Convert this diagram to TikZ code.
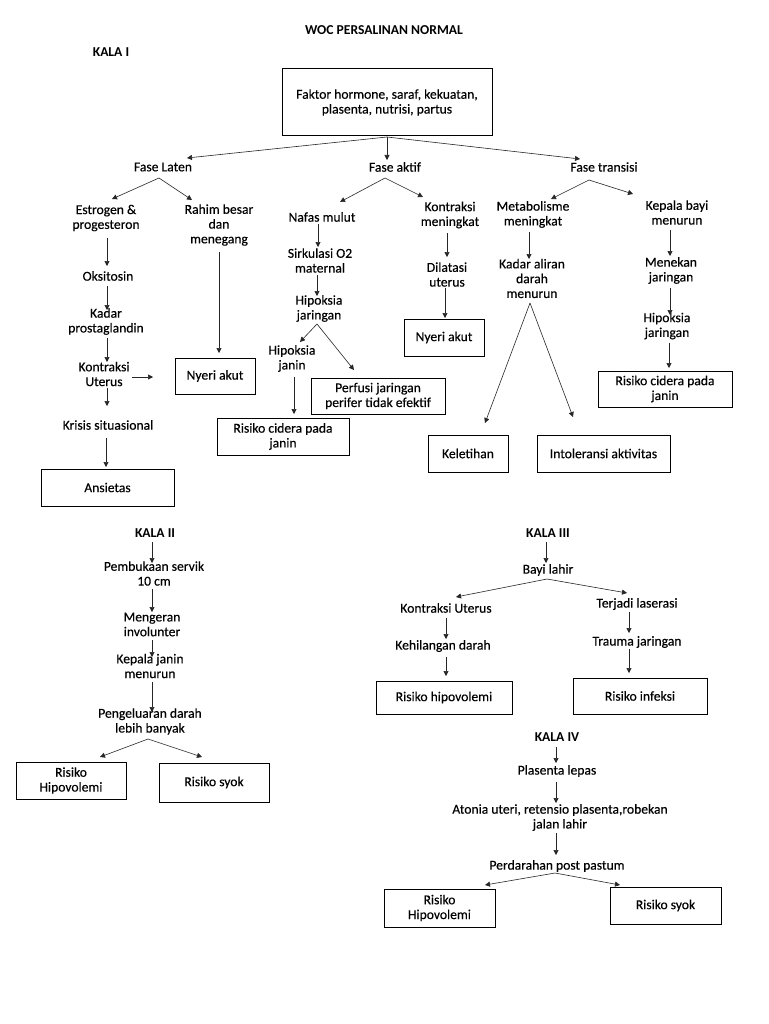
\documentclass[tikz,border=0pt]{standalone}
\usepackage{fontspec}
\setmainfont{Carlito}[UprightFeatures={FakeBold=0.3}]
\usetikzlibrary{arrows.meta}
\begin{document}
\begin{tikzpicture}[x=1pt,y=-1pt,
  every node/.style={font=\fontsize{13.6}{14.8}\selectfont, inner sep=1pt},
  t/.style={align=center},
  hd/.style={font=\fontsize{13.6}{14.8}\selectfont\bfseries},
  bx/.style={draw, line width=1pt, align=center, inner sep=0pt},
  arr/.style={draw=black!85, line width=0.6pt, -{Triangle[length=5pt,width=5pt]}}]
\useasboundingbox[fill=white] (0,0) rectangle (768,1024);
% ---------- KALA I ----------
\node[hd] (title) at (384,30) {WOC PERSALINAN NORMAL};
\node[hd] (k1) at (111,52) {KALA I};
\node[bx, minimum width=210pt, minimum height=67pt] (box1) at (387,102.5) {Faktor hormone, saraf, kekuatan,\\plasenta, nutrisi, partus};
\node[t] (fl) at (163,167) {Fase Laten};
\node[t] (fa) at (395,167) {Fase aktif};
\node[t] (ft) at (604,167) {Fase transisi};
\node[t] (estro) at (106,218) {Estrogen \&\\progesteron};
\node[t] (rahim) at (219,225) {Rahim besar\\dan\\menegang};
\node[t] (nafas) at (322,217) {Nafas mulut};
\node[t] (kontr) at (450,215) {Kontraksi\\meningkat};
\node[t] (metab) at (533,214.5) {Metabolisme\\meningkat};
\node[t] (kepala) at (677,212.5) {Kepala bayi\\menurun};
\node[t] (oks) at (108,276) {Oksitosin};
\node[t] (kadar) at (106,321.5) {Kadar\\prostaglandin};
\node[t] (kontrU) at (104,374) {Kontraksi\\Uterus};
\node[t] (krisis) at (108,425) {Krisis situasional};
\node[bx, minimum width=133pt, minimum height=37pt] (ans) at (107.5,487.5) {Ansietas};
\node[bx, minimum width=80pt, minimum height=36pt] (nyeri1) at (215,376) {Nyeri akut};
\node[t] (sirk) at (320,260.5) {Sirkulasi O2\\maternal};
\node[t] (hipjar) at (319,308.5) {Hipoksia\\jaringan};
\node[t] (hipjanin) at (292,358.5) {Hipoksia\\janin};
\node[bx, minimum width=134pt, minimum height=36pt] (perf) at (378,396) {Perfusi jaringan\\perifer tidak efektif};
\node[bx, minimum width=132pt, minimum height=37pt] (cid1) at (283,436.5) {Risiko cidera pada\\janin};
\node[t] (dilat) at (447,274.5) {Dilatasi\\uterus};
\node[bx, minimum width=80pt, minimum height=37pt] (nyeri2) at (444,337.5) {Nyeri akut};
\node[t] (kadaral) at (532,278.5) {Kadar aliran\\darah\\menurun};
\node[bx, minimum width=80pt, minimum height=37pt] (kelet) at (468,453.5) {Keletihan};
\node[bx, minimum width=133pt, minimum height=37pt] (intol) at (603.5,453.5) {Intoleransi aktivitas};
\node[t] (menekan) at (671,270.5) {Menekan\\jaringan};
\node[t] (hipjar2) at (667,326) {Hipoksia\\jaringan};
\node[bx, minimum width=134pt, minimum height=36pt] (cid2) at (665,389) {Risiko cidera pada\\janin};
% arrows KALA I
\draw[arr] ([shift={(0,34.5)}]box1.center) -- ([shift={(24,-9)}]fl.center);
\draw[arr] ([shift={(0,34.5)}]box1.center) -- ([shift={(-8,-7)}]fa.center);
\draw[arr] ([shift={(0,34.5)}]box1.center) -- ([shift={(-24,-8)}]ft.center);
\draw[arr] ([shift={(-4,11)}]fl.center) -- ([shift={(6,-19)}]estro.center);
\draw[arr] ([shift={(-4,11)}]fl.center) -- ([shift={(-27,-25)}]rahim.center);
\draw[arr] ([shift={(-10,11)}]fa.center) -- ([shift={(18,-15)}]nafas.center);
\draw[arr] ([shift={(-10,11)}]fa.center) -- ([shift={(-27,-18)}]kontr.center);
\draw[arr] ([shift={(-15,13)}]ft.center) -- ([shift={(18,-15.5)}]metab.center);
\draw[arr] ([shift={(-15,13)}]ft.center) -- ([shift={(-44,-18.5)}]kepala.center);
\draw[arr] ([shift={(1,20)}]estro.center) -- ([shift={(-1,-10)}]oks.center);
\draw[arr] ([shift={(-1,10)}]oks.center) -- ([shift={(1,-11.5)}]kadar.center);
\draw[arr] ([shift={(1,16.5)}]kadar.center) -- ([shift={(3,-12)}]kontrU.center);
\draw[arr] ([shift={(3,14)}]kontrU.center) -- ([shift={(-1,-19)}]krisis.center);
\draw[arr] ([shift={(-2,13)}]krisis.center) -- ([shift={(-1.5,-20.5)}]ans.center);
\draw[arr] ([shift={(28,3)}]kontrU.center) -- ([shift={(-62,1)}]nyeri1.center);
\draw[arr] ([shift={(0,27)}]rahim.center) -- ([shift={(4,-23)}]nyeri1.center);
\draw[arr] ([shift={(-4,7)}]nafas.center) -- ([shift={(-2,-13.5)}]sirk.center);
\draw[arr] ([shift={(-3,14.5)}]sirk.center) -- ([shift={(-2,-12.5)}]hipjar.center);
\draw[arr] ([shift={(-2,15.5)}]hipjar.center) -- ([shift={(8,-16.5)}]hipjanin.center);
\draw[arr] ([shift={(-2,15.5)}]hipjar.center) -- ([shift={(-24,-26)}]perf.center);
\draw[arr] ([shift={(2,18.5)}]hipjanin.center) -- ([shift={(11,-22.5)}]cid1.center);
\draw[arr] ([shift={(-3,18)}]kontr.center) -- ([shift={(0,-17.5)}]dilat.center);
\draw[arr] ([shift={(-2,13.5)}]dilat.center) -- ([shift={(1,-19.5)}]nyeri2.center);
\draw[arr] ([shift={(-4,17.5)}]metab.center) -- ([shift={(-3,-19.5)}]kadaral.center);
\draw[arr] ([shift={(-7,17.5)}]kepala.center) -- ([shift={(-1,-14.5)}]menekan.center);
\draw[arr] ([shift={(-1,17.5)}]menekan.center) -- ([shift={(3,-11)}]hipjar2.center);
\draw[arr] ([shift={(2,17)}]hipjar2.center) -- ([shift={(4,-21)}]cid2.center);
\draw[arr] ([shift={(-2,24.5)}]kadaral.center) -- ([shift={(17,-30.5)}]kelet.center);
\draw[arr] ([shift={(-2,24.5)}]kadaral.center) -- ([shift={(-30.5,-36.5)}]intol.center);
% ---------- KALA II ----------
\node[hd] (k2) at (155,533) {KALA II};
\node[t] (pemb) at (154,573.5) {Pembukaan servik\\10 cm};
\node[t] (meng) at (152,624.5) {Mengeran\\involunter};
\node[t] (kepj) at (150,666) {Kepala janin\\menurun};
\node[t] (peng) at (150,721.5) {Pengeluaran darah\\lebih banyak};
\node[bx, minimum width=110pt, minimum height=37pt] (rh2) at (71,780.5) {Risiko\\Hipovolemi};
\node[bx, minimum width=110pt, minimum height=39pt] (rs2) at (214,782.5) {Risiko syok};
\draw[arr] ([shift={(-3,9)}]k2.center) -- ([shift={(-2,-10.5)}]pemb.center);
\draw[arr] ([shift={(-2,15.5)}]pemb.center) -- ([shift={(0,-12.5)}]meng.center);
\draw[arr] ([shift={(0,15.5)}]meng.center) -- ([shift={(2,-9)}]kepj.center);
\draw[arr] ([shift={(2,16)}]kepj.center) -- ([shift={(2,-9.5)}]peng.center);
\draw[arr] ([shift={(-2,17.5)}]peng.center) -- ([shift={(29,-23.5)}]rh2.center);
\draw[arr] ([shift={(-2,17.5)}]peng.center) -- ([shift={(-12,-25.5)}]rs2.center);
% ---------- KALA III ----------
\node[hd] (k3) at (548,533) {KALA III};
\node[t] (bayi) at (548,570) {Bayi lahir};
\node[t] (kontru3) at (446,608) {Kontraksi Uterus};
\node[t] (terjadi) at (637,604) {Terjadi laserasi};
\node[t] (kehil) at (443,646) {Kehilangan darah};
\node[t] (trauma) at (637,642) {Trauma jaringan};
\node[bx, minimum width=136pt, minimum height=33pt] (rh3) at (444,697.5) {Risiko hipovolemi};
\node[bx, minimum width=134pt, minimum height=36pt] (inf) at (640,696) {Risiko infeksi};
\draw[arr] ([shift={(-2,9)}]k3.center) -- ([shift={(-2,-7)}]bayi.center);
\draw[arr] ([shift={(-1,9)}]bayi.center) -- ([shift={(10,-11)}]kontru3.center);
\draw[arr] ([shift={(-1,9)}]bayi.center) -- ([shift={(-10,-11)}]terjadi.center);
\draw[arr] ([shift={(0,10)}]kontru3.center) -- ([shift={(3,-7)}]kehil.center);
\draw[arr] ([shift={(3,11)}]kehil.center) -- ([shift={(2,-21.5)}]rh3.center);
\draw[arr] ([shift={(-8,8)}]terjadi.center) -- ([shift={(-8,-9)}]trauma.center);
\draw[arr] ([shift={(-8,7)}]trauma.center) -- ([shift={(-11,-23)}]inf.center);
% ---------- KALA IV ----------
\node[hd] (k4) at (557,737) {KALA IV};
\node[t] (plas) at (557,771) {Plasenta lepas};
\node[t] (aton) at (560,817.5) {Atonia uteri, retensio plasenta,robekan\\jalan lahir};
\node[t] (perd) at (557,866) {Perdarahan post pastum};
\node[bx, minimum width=111pt, minimum height=38pt] (rh4) at (439.5,908) {Risiko\\Hipovolemi};
\node[bx, minimum width=111pt, minimum height=37pt] (rs4) at (665.5,905.5) {Risiko syok};
\draw[arr] ([shift={(-1,10)}]k4.center) -- ([shift={(-1,-8)}]plas.center);
\draw[arr] ([shift={(-1,11)}]plas.center) -- ([shift={(-4,-14.5)}]aton.center);
\draw[arr] ([shift={(-4,15.5)}]aton.center) -- ([shift={(-1,-11)}]perd.center);
\draw[arr] ([shift={(-2,7)}]perd.center) -- ([shift={(45.5,-23)}]rh4.center);
\draw[arr] ([shift={(-2,7)}]perd.center) -- ([shift={(-45.5,-20.5)}]rs4.center);
\end{tikzpicture}
\end{document}
